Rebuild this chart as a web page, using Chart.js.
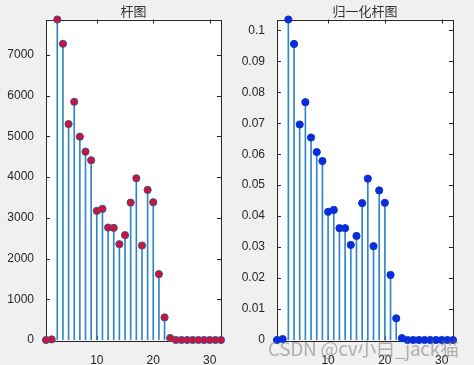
<!DOCTYPE html>
<html>
<head>
<meta charset="utf-8">
<script src="https://cdn.jsdelivr.net/npm/chart.js@4"></script>
<style>
  html, body { margin: 0; padding: 0; background: #f0f0f0; }
  #wrap { position: relative; width: 474px; height: 365px; overflow: hidden; }
  .panel { position: absolute; top: 0; width: 237px; height: 365px; }
  #mark { position: absolute; left: 268px; top: 334px; font: 19px "Noto Sans CJK SC", sans-serif;
          color: rgba(110,110,110,0.5); white-space: nowrap; letter-spacing: -0.3px; }
</style>
</head>
<body>
<div id="wrap">
  <div class="panel" style="left:0"><canvas id="left-chart"></canvas></div>
  <div class="panel" style="left:237px"><canvas id="right-chart"></canvas></div>
  <div id="mark">CSDN @cv小白_jack猫</div>
</div>
<script>
const xs = [1,2,3,4,5,6,7,8,9,10,11,12,13,14,15,16,17,18,19,20,21,22,23,24,25,26,27,28,29,30,31,32];
const counts = [0,15,7867,7270,5301,5848,4990,4623,4412,3169,3218,2760,2752,2352,2573,3373,
                3970,2319,3684,3382,1617,554,49,0,0,0,0,0,0,0,0,0];
const normCounts = [0,0.0003,0.1035,0.0956,0.0696,0.0768,0.0654,0.0607,0.0578,0.0414,0.0420,0.0361,0.0361,0.0307,0.0336,0.0442,
                    0.0521,0.0303,0.0483,0.0443,0.0210,0.0070,0.0006,0,0,0,0,0,0,0,0,0];
const xTicks = [10, 20, 30];
const countTicks = [0, 1000, 2000, 3000, 4000, 5000, 6000, 7000];
const normTicks = [0, 0.01, 0.02, 0.03, 0.04, 0.05, 0.06, 0.07, 0.08, 0.09, 0.1];

const stemColor = '#2f86c8';
const axisColor = '#262626';

// white axes background, box, inward ticks on all four sides and a centred title (matlab style)
const boxPlugin = {
  id: 'box',
  beforeDraw(chart) {
    const { ctx, chartArea: a } = chart;
    ctx.save();
    ctx.fillStyle = '#ffffff';
    ctx.fillRect(a.left, a.top, a.right - a.left, a.bottom - a.top);
    ctx.restore();
  },
  beforeDatasetsDraw(chart) {
    const { ctx, chartArea: a, scales } = chart;
    ctx.save();
    ctx.strokeStyle = axisColor;
    ctx.lineWidth = 1;
    ctx.beginPath();
    scales.x.ticks.forEach(t => {
      const px = Math.round(scales.x.getPixelForValue(t.value)) + 0.5;
      ctx.moveTo(px, a.bottom); ctx.lineTo(px, a.bottom - 4);
      ctx.moveTo(px, a.top); ctx.lineTo(px, a.top + 4);
    });
    scales.y.ticks.forEach(t => {
      const py = Math.round(scales.y.getPixelForValue(t.value)) + 0.5;
      ctx.moveTo(a.left, py); ctx.lineTo(a.left + 4, py);
      ctx.moveTo(a.right, py); ctx.lineTo(a.right - 4, py);
    });
    ctx.stroke();
    ctx.strokeRect(Math.round(a.left) + 0.5, Math.round(a.top) + 0.5,
                   Math.round(a.right - a.left), Math.round(a.bottom - a.top));
    ctx.fillStyle = '#333333';
    ctx.font = '13px "Noto Sans CJK SC"';
    ctx.textAlign = 'center';
    ctx.textBaseline = 'middle';
    ctx.fillText(chart.options.plugins.box.title, (a.left + a.right) / 2, 11);
    ctx.restore();
  }
};

function makeStem(id, title, values, yMax, yTicks, yWidth, padRight, face, edge) {
  const pts = xs.map((x, i) => ({ x, y: values[i] }));
  return new Chart(document.getElementById(id), {
    type: 'scatter',
    data: {
      datasets: [
        { type: 'bar', data: pts, backgroundColor: stemColor, barThickness: 1, order: 2 },
        { data: pts, pointRadius: 3.6, pointBackgroundColor: face, pointBorderColor: edge,
          pointBorderWidth: 1, clip: false, order: 1 }
      ]
    },
    options: {
      responsive: true,
      maintainAspectRatio: false,
      animation: false,
      layout: { padding: { left: 0, right: padRight, top: 19.5, bottom: 0 } },
      plugins: {
        legend: { display: false },
        tooltip: { enabled: false },
        title: { display: false },
        box: { title }
      },
      scales: {
        x: {
          type: 'linear', min: 1, max: 32, offset: false,
          grid: { display: false, offset: false }, border: { display: false },
          afterBuildTicks: s => { s.ticks = xTicks.map(v => ({ value: v })); },
          afterFit: s => { s.height = 25; },
          ticks: { color: axisColor, padding: 5, maxRotation: 0,
                   font: { family: '"Liberation Sans", Arial', size: 12 } }
        },
        y: {
          min: 0, max: yMax,
          grid: { display: false }, border: { display: false },
          afterBuildTicks: s => { s.ticks = yTicks.map(v => ({ value: v })); },
          afterFit: s => { s.width = yWidth; },
          ticks: { color: axisColor, padding: 4, callback: v => String(v),
                   font: { family: '"Liberation Sans", Arial', size: 12 } }
        }
      }
    },
    plugins: [boxPlugin]
  });
}

makeStem('left-chart', '杆图', counts, 7867, countTicks, 46, 16, '#d4112e', '#3553a0');
makeStem('right-chart', '归一化杆图', normCounts, 0.1035, normTicks, 40, 21, '#0a2be0', '#0a36c8');
</script>
</body>
</html>
